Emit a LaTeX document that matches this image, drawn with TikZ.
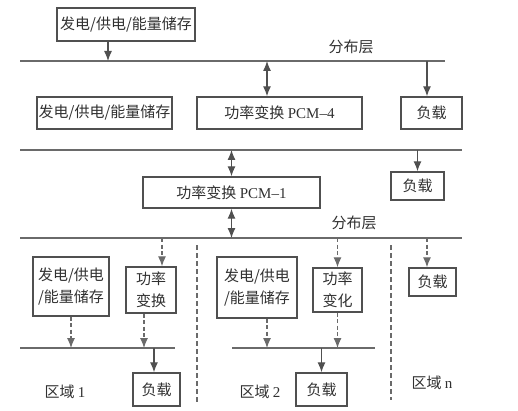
\documentclass[tikz,border=0pt]{standalone}
\usepackage{fontspec}
\setmainfont{Liberation Serif}
\newfontfamily\cjk{Noto Sans CJK SC}
\usetikzlibrary{arrows.meta,calc}
\definecolor{boxgray}{HTML}{505050}
\definecolor{busgray}{HTML}{6A6A6A}
\definecolor{txtgray}{HTML}{303030}
\tikzset{every picture/.style={/utils/exec={\cjk}}}

\begin{document}
\begin{tikzpicture}[x=1pt,y=-1pt,font=\fontsize{15}{22}\selectfont,
    bigtip/.tip={Latex[length=10pt,width=8pt]},
    box/.style={draw=boxgray,line width=1.4pt,inner sep=0pt,align=center,text=txtgray},
    bus/.style={draw=busgray,line width=1.4pt},
    arr/.style={-bigtip,draw=boxgray,line width=1.2pt},
    arr2/.style={bigtip-bigtip,draw=boxgray,line width=1.2pt},
    darr/.style={-bigtip,draw=busgray,line width=1.1pt,dash pattern=on 4pt off 2.5pt},
    divider/.style={draw=busgray,line width=1.2pt,dash pattern=on 5pt off 3pt},
    lbl/.style={text=txtgray}]
    \useasboundingbox (0,0) rectangle (518,411);
    % buses
    \coordinate (b1w) at (20,61);   \coordinate (b1e) at (445,61);
    \coordinate (b2w) at (20,150);  \coordinate (b2e) at (462,150);
    \coordinate (b3w) at (20,238);  \coordinate (b3e) at (462,238);
    \coordinate (r1w) at (20,348);  \coordinate (r1e) at (175,348);
    \coordinate (r2w) at (232,348); \coordinate (r2e) at (375,348);
    \draw [bus] (b1w) -- (b1e);
    \draw [bus] (b2w) -- (b2e);
    \draw [bus] (b3w) -- (b3e);
    \draw [bus] (r1w) -- (r1e);
    \draw [bus] (r2w) -- (r2e);
    \node [lbl] (lay1) at (351,47) {分布层};
    \node [lbl] (lay2) at (354,223) {分布层};
    % upper part
    \node [box,minimum width=138pt,minimum height=33pt] (src) at (126,24.5) {发电/供电/能量储存};
    \node [box,minimum width=135pt,minimum height=32pt] (gen4) at (104.5,113) {发电/供电/能量储存};
    \node [box,minimum width=165pt,minimum height=32pt] (pcm4) at (279.5,113) {功率变换 \rmfamily PCM--4};
    \node [box,minimum width=61pt,minimum height=32pt] (load4) at (431.5,113) {负载};
    \node [box,minimum width=177pt,minimum height=31pt] (pcm1) at (231.5,192.5) {功率变换 \rmfamily PCM--1};
    \node [box,minimum width=53pt,minimum height=28pt] (load0) at (417.5,186) {负载};
    \draw [arr] ($(src.south)+(-18,0)$) coordinate (t1) -- (t1 |- b1w);
    \draw [arr2] ($(pcm4.north)+(-12.5,0)$) coordinate (t2) -- (t2 |- b1w);
    \draw [arr] ($(load4.north)+(-4.5,0)$) coordinate (t3) (t3 |- b1w) -- (t3);
    \draw [arr2] (pcm1.north |- b2w) -- (pcm1.north);
    \draw [arr2] (pcm1.south) -- (pcm1.south |- b3w);
    \draw [arr] (load0.north |- b2w) -- (load0.north);
    % regions
    \draw [divider] (197,245) coordinate (d1) -- (197,403);
    \draw [divider] (391,245) coordinate (d2) -- (391,400);
    \node [box,minimum width=76pt,minimum height=59pt] (gen1) at (71,286.5) {发电/供电\\/能量储存};
    \node [box,minimum width=50pt,minimum height=46pt] (conv1) at (151,290) {功率\\变换};
    \node [box,minimum width=47pt,minimum height=33pt] (load1) at (156.5,389.5) {负载};
    \node [box,minimum width=80pt,minimum height=61pt] (gen2) at (257,287.5) {发电/供电\\/能量储存};
    \node [box,minimum width=49pt,minimum height=44pt] (conv2) at (337.5,290) {功率\\变化};
    \node [box,minimum width=51pt,minimum height=33pt] (load2) at (321.5,389.5) {负载};
    \node [box,minimum width=47pt,minimum height=28pt] (loadn) at (432.5,282) {负载};
    \node [lbl] (zone1) at (65,392) {区域 \rmfamily 1};
    \node [lbl] (zone2) at (260,392) {区域 \rmfamily 2};
    \node [lbl] (zonen) at (432,383) {区域 \rmfamily n};
    \draw [darr] ($(conv1.north)+(11,0)$) coordinate (t4) (t4 |- b3w) -- (t4);
    \draw [darr] (gen1.south) -- (gen1.south |- r1w);
    \draw [darr] ($(conv1.south)+(-7,0)$) coordinate (t5) -- (t5 |- r1w);
    \draw [arr] ($(load1.north)+(-2.5,0)$) coordinate (t6) (t6 |- r1w) -- (t6);
    \draw [darr] (conv2.north |- b3w) -- (conv2.north);
    \draw [darr] ($(gen2.south)+(10,0)$) coordinate (t7) -- (t7 |- r2w);
    \draw [darr] (conv2.south) -- (conv2.south |- r2w);
    \draw [arr] (load2.north |- r2w) -- (load2.north);
    \draw [darr] ($(loadn.north)+(-5.5,0)$) coordinate (t8) (t8 |- b3w) -- (t8);
\end{tikzpicture}
\end{document}
